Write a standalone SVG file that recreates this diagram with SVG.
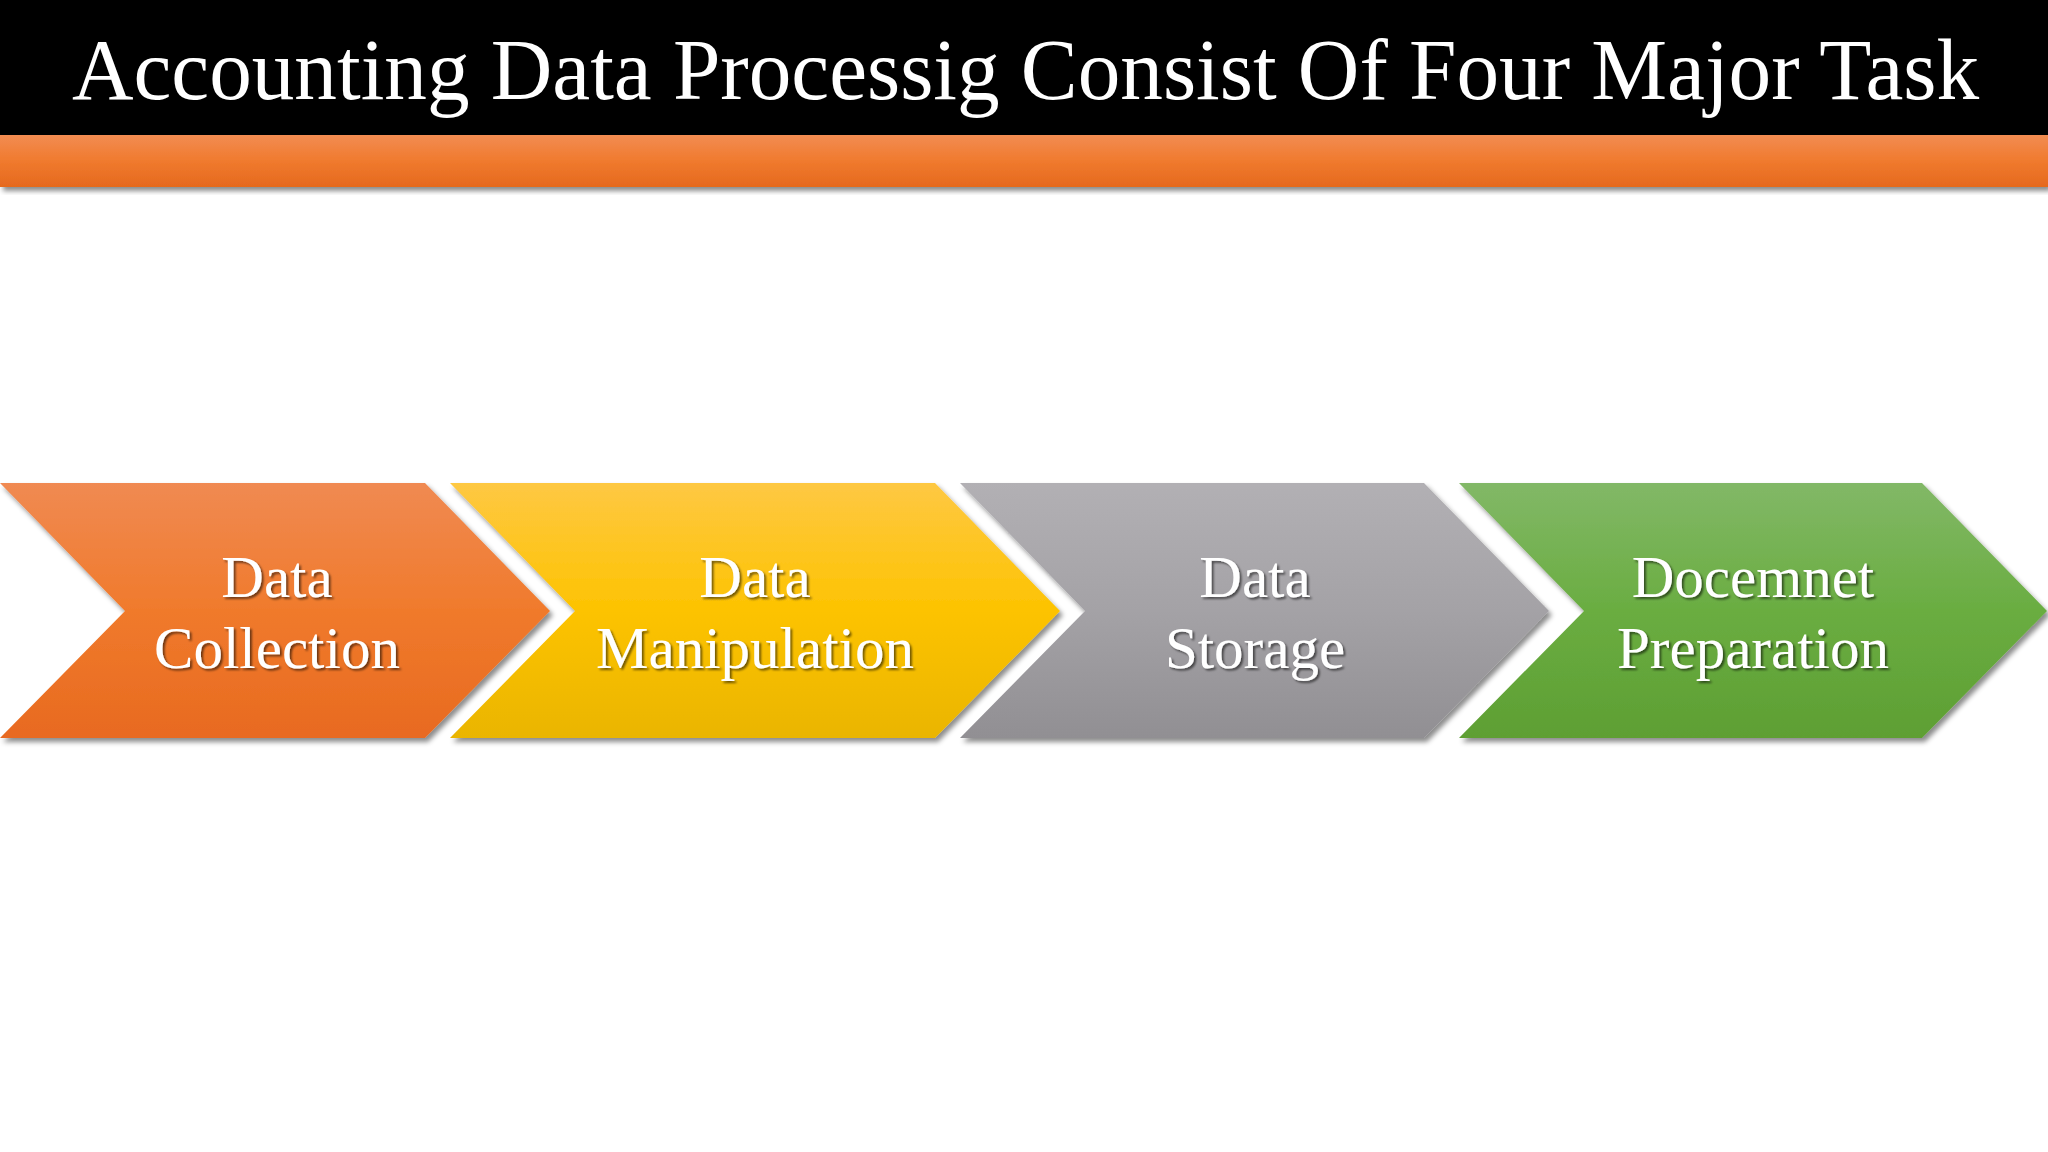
<svg xmlns="http://www.w3.org/2000/svg" width="2048" height="1152" viewBox="0 0 2048 1152">
  <defs>
    <linearGradient id="gOrangeBar" x1="0" y1="0" x2="0" y2="1">
      <stop offset="0" stop-color="#F28C52"/>
      <stop offset="0.5" stop-color="#F07A2E"/>
      <stop offset="1" stop-color="#E5691E"/>
    </linearGradient>
    <linearGradient id="gOrange" x1="0" y1="0" x2="0" y2="1">
      <stop offset="0" stop-color="#F08A52"/>
      <stop offset="0.5" stop-color="#F07A2C"/>
      <stop offset="1" stop-color="#E86A20"/>
    </linearGradient>
    <linearGradient id="gYellow" x1="0" y1="0" x2="0" y2="1">
      <stop offset="0" stop-color="#FEC843"/>
      <stop offset="0.5" stop-color="#FDC301"/>
      <stop offset="1" stop-color="#EAB505"/>
    </linearGradient>
    <linearGradient id="gGray" x1="0" y1="0" x2="0" y2="1">
      <stop offset="0" stop-color="#B2B0B4"/>
      <stop offset="0.5" stop-color="#A4A2A6"/>
      <stop offset="1" stop-color="#918F93"/>
    </linearGradient>
    <linearGradient id="gGreen" x1="0" y1="0" x2="0" y2="1">
      <stop offset="0" stop-color="#82B867"/>
      <stop offset="0.5" stop-color="#6AAD41"/>
      <stop offset="1" stop-color="#5E9F33"/>
    </linearGradient>
    <filter id="shapeShadow" x="-5%" y="-10%" width="110%" height="125%">
      <feDropShadow dx="3" dy="4" stdDeviation="2.5" flood-color="#000" flood-opacity="0.45"/>
    </filter>
    <filter id="textShadow" x="-5%" y="-20%" width="115%" height="150%">
      <feDropShadow dx="2" dy="2" stdDeviation="1.2" flood-color="#000" flood-opacity="0.55"/>
    </filter>
  </defs>
  <style>
    .title { font-family: "Liberation Serif", "Times New Roman", serif; font-size: 86px; fill: #FFFFFF; }
    .label { font-family: "Liberation Serif", "Times New Roman", serif; font-size: 59px; fill: #FFFFFF; text-anchor: middle; filter: url(#textShadow); }
    .chev { filter: url(#shapeShadow); }
  </style>

  <rect x="0" y="0" width="2048" height="1152" fill="#FFFFFF"/>

  <g id="header">
    <rect x="0" y="0" width="2048" height="135" fill="#000000"/>
    <rect x="0" y="135" width="2048" height="52" fill="url(#gOrangeBar)" filter="url(#shapeShadow)"/>
    <text class="title" x="72" y="99" textLength="1907" lengthAdjust="spacingAndGlyphs">Accounting Data Processig Consist Of Four Major Task</text>
  </g>

  <g id="connectors"></g>

  <g id="node-data-collection">
    <polygon class="chev" points="0,483 425,483 550,611 425,738 0,738 125,611" fill="url(#gOrange)"/>
    <text class="label" x="277" y="597">Data</text>
    <text class="label" x="277" y="668">Collection</text>
  </g>

  <g id="node-data-manipulation">
    <polygon class="chev" points="450,483 935,483 1060,611 935,738 450,738 575,611" fill="url(#gYellow)"/>
    <text class="label" x="755" y="597">Data</text>
    <text class="label" x="755" y="668">Manipulation</text>
  </g>

  <g id="node-data-storage">
    <polygon class="chev" points="960,483 1424,483 1549,611 1424,738 960,738 1085,611" fill="url(#gGray)"/>
    <text class="label" x="1255" y="597">Data</text>
    <text class="label" x="1255" y="668">Storage</text>
  </g>

  <g id="node-document-preparation">
    <polygon class="chev" points="1459,483 1922,483 2047,611 1922,738 1459,738 1584,611" fill="url(#gGreen)"/>
    <text class="label" x="1753" y="597">Docemnet</text>
    <text class="label" x="1753" y="668">Preparation</text>
  </g>
</svg>
